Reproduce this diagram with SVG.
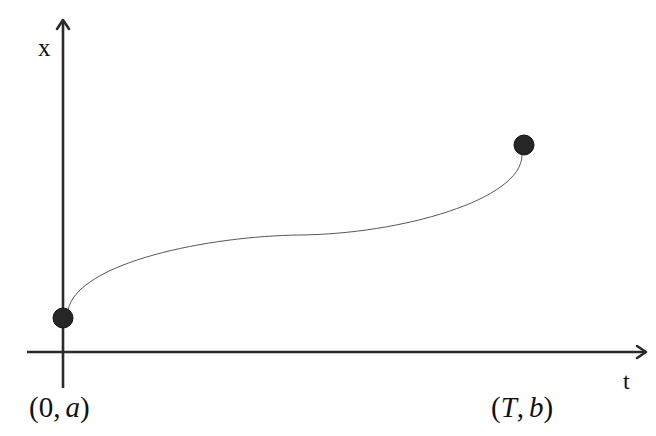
<svg xmlns="http://www.w3.org/2000/svg" width="656" height="436" viewBox="0 0 656 436">
<style>
.axis{stroke:#2b2b2b;stroke-width:2.6;fill:none}
.head{stroke:#2b2b2b;stroke-width:2.6;fill:none;stroke-linecap:round;stroke-linejoin:round}
.curve{stroke:#444;stroke-width:0.9;fill:none}
.dot{fill:#262626;stroke:#111;stroke-width:1}
.lbl{font-family:"Liberation Serif","Times New Roman",serif;fill:#111}
.math{font-family:"Liberation Serif","Times New Roman",serif;fill:#111;font-size:29px}
</style>
<rect width="656" height="436" fill="#fff"/>
<g id="connectors">
<line class="axis" x1="63" y1="388" x2="63" y2="20"/>
<polyline class="head" points="57,29 63,20 69,29"/>
<line class="axis" x1="27" y1="352" x2="646" y2="352"/>
<polyline class="head" points="637,346 646,352 637,358"/>
<path class="curve" d="M 68 310 C 78 262, 210 236, 300 235 C 400 234, 522 200, 522 155"/>
</g>
<g id="start"><circle class="dot" cx="63" cy="318" r="10"/></g>
<g id="end"><circle class="dot" cx="524" cy="145" r="10"/></g>
<g id="labels">
<text class="lbl" x="38" y="56" font-size="25">x</text>
<text class="lbl" x="623" y="389" font-size="24">t</text>
<text class="math" x="29" y="417">(0,<tspan dx="5" font-style="italic">a</tspan>)</text>
<text class="math" x="491" y="417">(<tspan font-style="italic">T</tspan>,<tspan dx="5" font-style="italic">b</tspan>)</text>
</g>
</svg>
